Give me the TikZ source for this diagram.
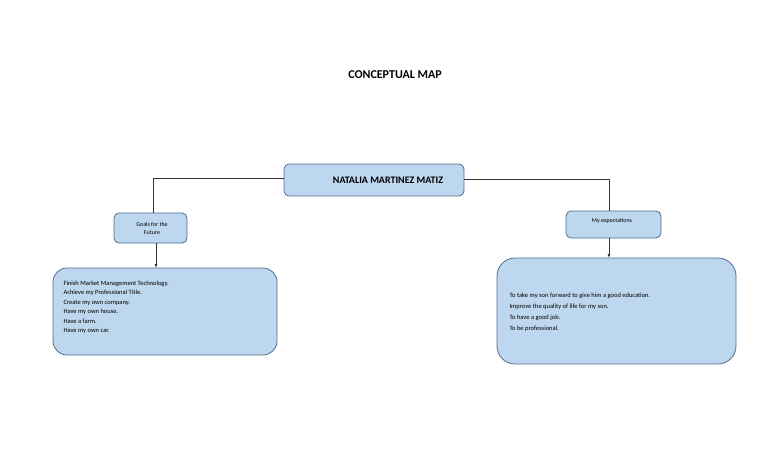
\documentclass[tikz,border=0pt]{standalone}
\usepackage{fontspec}
\setmainfont{Carlito}
\definecolor{boxfill}{HTML}{BDD7EE}
\definecolor{boxline}{HTML}{4F6D8F}
\begin{document}
\begin{tikzpicture}[x=1pt,y=-1pt,
  box/.style={draw=boxline,fill=boxfill,rounded corners=#1,line width=0.8pt},
  box/.default=5pt,
  conn/.style={line width=0.8pt,black!80},
  arr/.style={conn,-{Latex[length=4pt,width=3pt]}}]
\usetikzlibrary{arrows.meta}
\useasboundingbox (0,0) rectangle (768,466);
\node[font=\bfseries\fontsize{12}{14}\selectfont] (title) at (395,75) {CONCEPTUAL MAP};
\path[box] (284,164) rectangle (464,196);
\node[font=\bfseries\fontsize{10}{12}\selectfont] (main) at (388,180) {NATALIA MARTINEZ MATIZ};
\coordinate (mainL) at (284,178);
\coordinate (mainR) at (464,179);
\path[box] (114,213) rectangle (187,243);
\node[font=\fontsize{6}{8}\selectfont,align=center] (goals) at (152,228) {Goals for the\\Future};
\coordinate (goalsT) at (153,213);
\coordinate (goalsB) at (156,243);
\path[box=14pt] (53,268) rectangle (277,355);
\node[font=\fontsize{6.5}{9.5}\selectfont,align=left,anchor=north west] (left) at (60,277) {Finish Market Management Technology.\\Achieve my Professional Title.\\Create my own company.\\Have my own house.\\Have a farm.\\Have my own car.};
\coordinate (leftT) at (156,268);
\path[box] (566,211) rectangle (661,238);
\node[font=\fontsize{6}{8}\selectfont] (exp) at (612,221) {My expectations};
\coordinate (expT) at (609,211);
\coordinate (expB) at (609,238);
\path[box=18pt] (497,258) rectangle (736,364);
\node[font=\fontsize{6.5}{11}\selectfont,align=left,anchor=north west] (right) at (506,289) {To take my son forward to give him a good education.\\Improve the quality of life for my son.\\To have a good job.\\To be professional.};
\coordinate (rightT) at (609,258);
\draw[conn] (mainL) -| (goalsT);
\draw[conn] (mainR) -| (expT);
\draw[arr] (goalsB) -- (leftT);
\draw[arr] (expB) -- (rightT);
\end{tikzpicture}
\end{document}
